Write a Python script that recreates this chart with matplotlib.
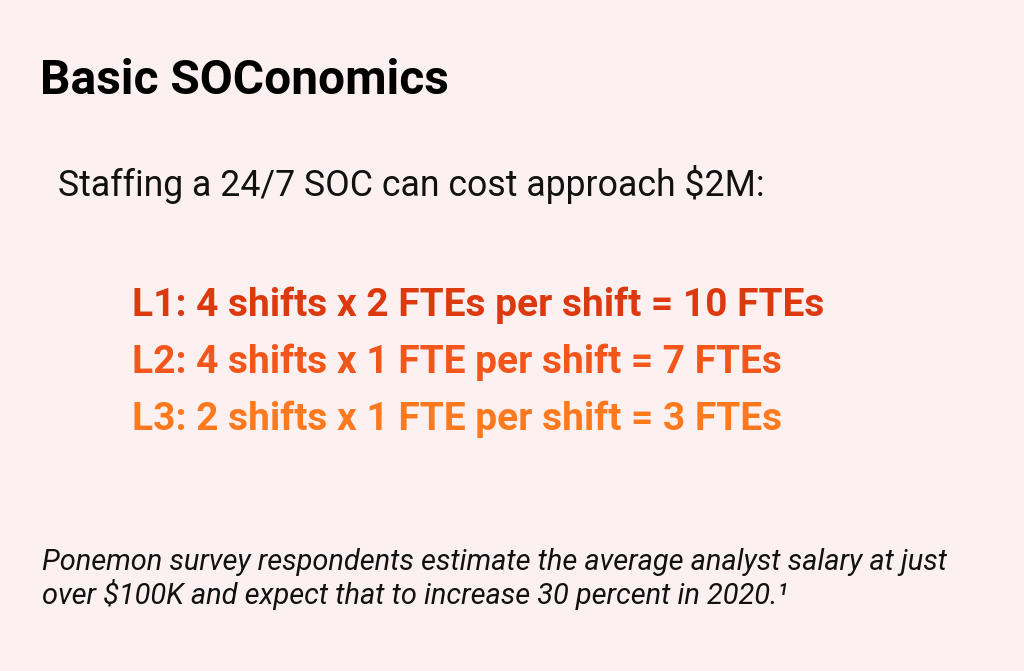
import matplotlib.pyplot as plt

W, H = 1024, 671
bg = "#fdf0f0"

title = "Basic SOConomics"
subtitle = "Staffing a 24/7 SOC can cost approach $2M:"
lines = [
    "L1: 4 shifts x 2 FTEs per shift = 10 FTEs",
    "L2: 4 shifts x 1 FTE per shift = 7 FTEs",
    "L3: 2 shifts x 1 FTE per shift = 3 FTEs",
]
line_colors = ["#dc3a0e", "#f2561a", "#ff7a1e"]
note = [
    "Ponemon survey respondents estimate the average analyst salary at just",
    "over $100K and expect that to increase 30 percent in 2020.\u00b9",
]

plt.rcParams["font.family"] = ["Roboto", "DejaVu Sans"]
fig = plt.figure(figsize=(W / 100, H / 100), dpi=100, facecolor=bg)


def put(x, y, s, **kw):
    fig.text(x / W, 1 - y / H, s, va="baseline", ha="left", **kw)


put(40, 94, title, fontsize=34.5, fontweight="bold", color="black")
put(58, 196, subtitle, fontsize=25.7, color="#111111")
for i, (s, c) in enumerate(zip(lines, line_colors)):
    put(132, 316 + i * 57, s, fontsize=28, fontweight="bold", color=c)
for i, s in enumerate(note):
    put(42, 570 + i * 34, s, fontsize=20.9, style="italic", color="#111111")

fig.savefig("out.png", dpi=100, facecolor=bg)
